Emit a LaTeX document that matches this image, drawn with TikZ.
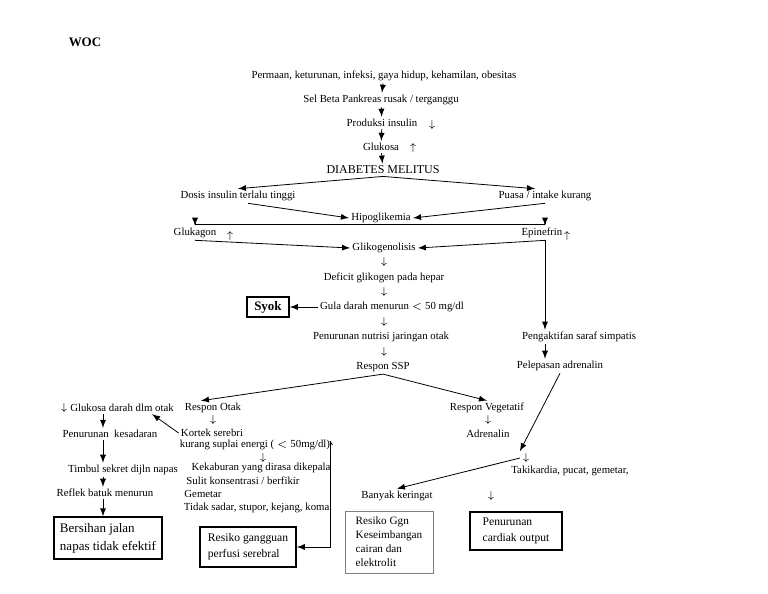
\documentclass[tikz,border=0pt]{standalone}
\usepackage{fontspec}
\setmainfont{Liberation Serif}
\usetikzlibrary{positioning}

\begin{document}
\begin{tikzpicture}[x=0.5pt, y=-0.5pt,
    every node/.style={font=\fontsize{5.4}{6.4}\selectfont, inner sep=1pt},
    block/.style={draw, thick, align=left, inner sep=3pt, font=\fontsize{5.8}{8}\selectfont},
    arrow/.style={-latex, thin},
    line/.style={thin}]
    \useasboundingbox (0,0) rectangle (768,594);

    \node[font=\bfseries\fontsize{6.5}{7}\selectfont] (woc) at (85,42) {WOC};

    % jalur utama
    \node (sebab) at (384,76) {Permaan, keturunan, infeksi, gaya hidup, kehamilan, obesitas};
    \node (betasel) at (381,100) {Sel Beta Pankreas rusak / terganggu};
    \node (produksi) at (382,123) {Produksi insulin};
    \node (produksiT) at (432,125) {$\downarrow$};
    \node (glukosa) at (381,147) {Glukosa};
    \node (glukosaT) at (413,148) {$\uparrow$};
    \node[font=\fontsize{6}{7}\selectfont] (dm) at (383,170) {DIABETES MELITUS};
    \node (dosis) at (238,196) {Dosis insulin terlalu tinggi};
    \node (puasa) at (545,196) {Puasa / intake kurang};
    \node (hipo) at (381,218) {Hipoglikemia};
    \node (glukagon) at (195,233) {Glukagon};
    \node (glukagonT) at (230,236) {$\uparrow$};
    \node (epinefrin) at (542,233) {Epinefrin};
    \node (epinefrinT) at (567,236) {$\uparrow$};
    \node (glikogenolisis) at (384,248) {Glikogenolisis};
    \node (a1) at (384,262) {$\downarrow$};
    \node (defisit) at (384,278) {Deficit glikogen pada hepar};
    \node (a2) at (384,292) {$\downarrow$};
    \node (gula) at (392,307) {Gula darah menurun $<$ 50 mg/dl};
    \node[draw, thick, minimum width=21, minimum height=9, inner sep=2pt, font=\bfseries\fontsize{6.5}{7}\selectfont] (syok) at (268,307) {Syok};
    \node (a3) at (384,322) {$\downarrow$};
    \node (nutrisi) at (381,337) {Penurunan nutrisi jaringan otak};
    \node (a4) at (384,352) {$\downarrow$};
    \node (ssp) at (383,367) {Respon SSP};
    \node (simpatis) at (579,337) {Pengaktifan saraf simpatis};
    \node (adrenalinL) at (560,366) {Pelepasan adrenalin};

    % cabang otak
    \node (otak) at (213,408) {Respon Otak};
    \node (a5) at (213,420) {$\downarrow$};
    \node (kortek) at (212,433) {Kortek serebri};
    \node (energi) at (255,445) {kurang suplai energi ( $<$ 50mg/dl)};
    \node (a6) at (263,458) {$\downarrow$};
    \node (kabur) at (261,468) {Kekaburan yang dirasa dikepala};
    \node (sulit) at (243,481) {Sulit konsentrasi / berfikir};
    \node (gemetar) at (203,494) {Gemetar};
    \node (tidak) at (258,508) {Tidak sadar, stupor, kejang, koma.};
    \node[block, minimum width=48, minimum height=20] (perfusi) at (248,547) {Resiko gangguan\\perfusi serebral};
    \node (otakG) at (122,408) {Glukosa darah dlm otak};
    \node (otakT) at (64,408) {$\downarrow$};
    \node (sadar) at (110,434) {Penurunan\ \ kesadaran};
    \node (sekret) at (123,470) {Timbul sekret dijln napas};
    \node (refleks) at (105,493) {Reflek batuk menurun};
    \node[block, font=\fontsize{6.5}{9}\selectfont, minimum width=52, minimum height=19] (jalan) at (108,538) {Bersihan jalan\\napas tidak efektif};

    % cabang vegetatif
    \node (vegetatif) at (487,408) {Respon Vegetatif};
    \node (a7) at (488,420) {$\downarrow$};
    \node (adrenalin) at (488,434) {Adrenalin};
    \node (a8) at (526,458) {$\downarrow$};
    \node (takikardia) at (570,471) {Takikardia, pucat, gemetar,};
    \node (a9) at (491,496) {$\downarrow$};
    \node (keringat) at (397,496) {Banyak keringat};
    \node[block, draw=gray, thin, minimum width=44, minimum height=28, font=\fontsize{5.6}{7}\selectfont] (cairan) at (389,542) {Resiko Ggn\\Keseimbangan\\cairan dan\\elektrolit};
    \node[block, minimum width=46, minimum height=18] (cardiak) at (516,531) {Penurunan\\cardiak output};

    % penghubung
    \coordinate (kolomkiri) at (103,0);
    \coordinate (kolomkanan) at (545,0);
    \draw[arrow] (sebab) -- (betasel);
    \draw[arrow] (betasel) -- (produksi);
    \draw[arrow] (produksi) -- (glukosa);
    \draw[arrow] (glukosa) -- (dm);
    \draw[arrow] (dm.south) -- (dosis.north);
    \draw[arrow] (dm.south) -- ([xshift=-5]puasa.north);
    \draw[arrow] ([xshift=5]dosis.south) -- (hipo.west);
    \draw[arrow] (puasa.south) -- (hipo.east);
    \coordinate (hipoL) at (195,224);
    \coordinate (hipoR) at (545,224);
    \draw[line] (hipoL) -- (hipoR);
    \draw[arrow] (hipoL) -- (glukagon.north);
    \draw[arrow] (hipoR) -- (epinefrin.north -| kolomkanan);
    \draw[arrow] (glukagon.south) -- (glikogenolisis.west);
    \draw[arrow] (epinefrin.south -| kolomkanan) -- (glikogenolisis.east);
    \draw[arrow] (epinefrin.south -| kolomkanan) -- (simpatis.north -| kolomkanan);
    \draw[arrow] (simpatis.south -| kolomkanan) -- (adrenalinL.north -| kolomkanan);
    \draw[arrow] (gula) -- (syok);
    \draw[arrow] (ssp.south) -- ([xshift=-6]otak.north);
    \draw[arrow] (ssp.south) -- (vegetatif.north);
    \draw[arrow] (adrenalinL.south) -- (a8.north west);
    \draw[arrow] (kortek.west) -- ([xshift=-12]otakG.south east);
    \draw[arrow] (otakG.south -| kolomkiri) -- (sadar.north -| kolomkiri);
    \draw[arrow] (sadar.south -| kolomkiri) -- (sekret.north -| kolomkiri);
    \draw[arrow] (sekret.south -| kolomkiri) -- (refleks.north -| kolomkiri);
    \draw[arrow] (refleks.south -| kolomkiri) -- (jalan.north -| kolomkiri);
    \coordinate (kanan) at (330,441);
    \draw[line] (energi.east) -- (kanan);
    \draw[arrow] (kanan) |- (perfusi.east);
    \draw[arrow] (a8.west) -- (keringat.north);
\end{tikzpicture}
\end{document}
